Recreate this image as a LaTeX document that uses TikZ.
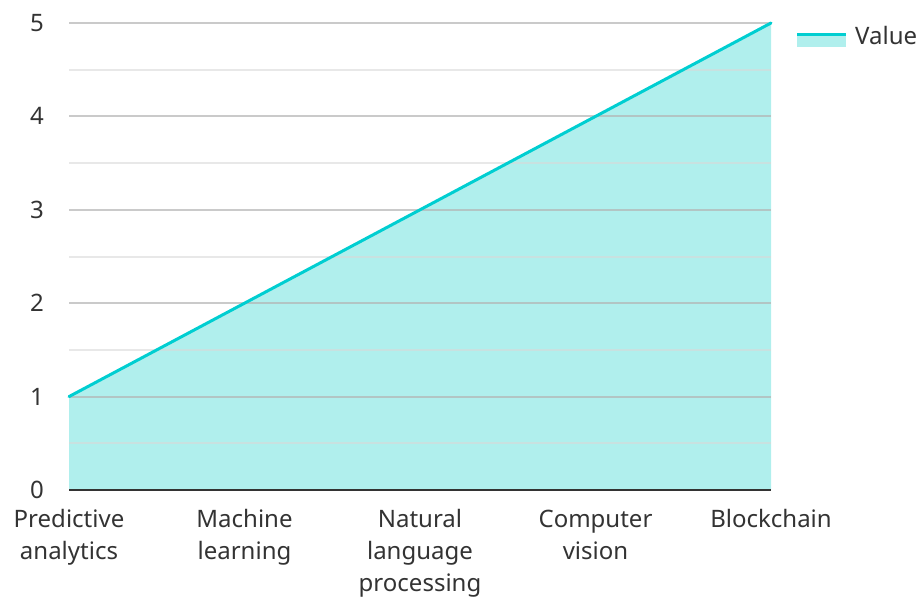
\documentclass[tikz,border=0pt]{standalone}
\usepackage{fontspec}
\setmainfont{Noto Sans}
\definecolor{teal1}{HTML}{00CED1}
\definecolor{tealfill}{HTML}{B0EFED}
\definecolor{gridmain}{HTML}{B4B4B4}
\definecolor{gridminor}{HTML}{D8D8D8}
\definecolor{axisc}{HTML}{333333}
\definecolor{txt}{HTML}{333333}
\begin{document}
\begin{tikzpicture}[x=1pt,y=-1pt,
  lbl/.style={font=\fontsize{24}{32}\selectfont, text=txt, inner sep=0pt},
  ylbl/.style={lbl, anchor=base east},
  xlbl/.style={lbl, anchor=base, align=center},
  majorgrid/.style={draw=gridmain, line width=2pt, opacity=0.7},
  minorgrid/.style={draw=gridminor, line width=2pt, opacity=0.6},
  series/.style={draw=teal1, line width=3pt, line cap=round},
  areafill/.style={fill=tealfill}]
\useasboundingbox (0,0) rectangle (921,597);
% area
\fill[areafill] (69,490) -- (69,396.6) -- (771,23) -- (771,490) -- cycle;
% grid
\foreach \v in {0.5,1.5,2.5,3.5,4.5}{\draw[minorgrid] (69,{490-93.4*\v}) -- (771,{490-93.4*\v});}
\foreach \v in {1,2,3,4,5}{\draw[majorgrid] (69,{490-93.4*\v}) -- (771,{490-93.4*\v});}
% axis
\draw[axisc, line width=2pt] (69,490) -- (771,490);
% series
\coordinate (p1) at (69,396.6);
\coordinate (p5) at (771,23);
\draw[series] (p1) -- (p5);
% y labels
\foreach \v in {0,...,5}{\node[ylbl] (y\v) at (44,{490-93.4*\v+8.5}) {\v};}
% x labels (anchor = baseline of last line)
\node[xlbl] (c1) at (69,559) {Predictive\\analytics};
\node[xlbl] (c2) at (244.5,559) {Machine\\learning};
\node[xlbl] (c3) at (420,591) {Natural\\language\\processing};
\node[xlbl] (c4) at (595.5,559) {Computer\\vision};
\node[xlbl] (c5) at (771,527) {Blockchain};
% legend
\fill[areafill] (797,36) rectangle (846,47);
\draw[draw=teal1, line width=3pt] (797,34.5) -- (846,34.5);
\node[lbl, anchor=base west] (leg) at (855,44) {Value};
\end{tikzpicture}
\end{document}
